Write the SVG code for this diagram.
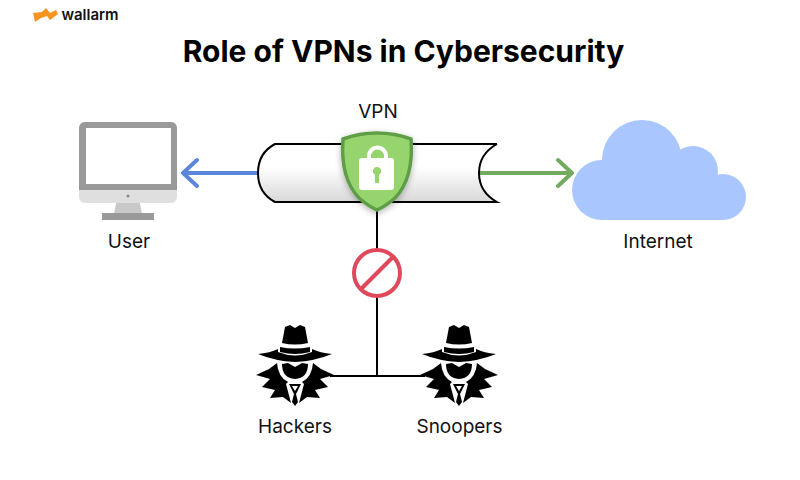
<svg xmlns="http://www.w3.org/2000/svg" width="800" height="480" viewBox="0 0 800 480">
<defs>
<style>
text{font-family:"Inter","Liberation Sans",sans-serif;fill:#111;text-anchor:middle}
.l{font-size:19px}
.ln{fill:none;stroke:#000;stroke-width:2}
</style>
<linearGradient id="g" x1="0" y1="0" x2="0" y2="1"><stop offset="0.4" stop-color="#fff"/><stop offset="1" stop-color="#d8d8d8"/></linearGradient>
<filter id="s" x="-20%" y="-20%" width="140%" height="140%"><feDropShadow dx="0" dy="2" stdDeviation="3" flood-color="#000" flood-opacity="0.3"/></filter>
<g id="spy">
<path d="M-13 -33 L-10 -49 L-5 -51 L0 -48 L5 -51 L10 -49 L13 -33 Q0 -30 -13 -33Z"/>
<path d="M-15 -29 Q0 -26 15 -29 L15 -24 Q0 -20 -15 -24Z"/>
<path d="M-37 -22 Q-25 -23 -17 -27 L-17 -24 Q0 -17 17 -24 L17 -27 Q25 -23 37 -22 Q20 -15 0 -14 Q-20 -15 -37 -22Z"/>
<path d="M-13 -12 L-7 -13 L0 -9 L7 -13 L13 -12 Q13 2 0 3 Q-13 2 -13 -12Z"/>
<path d="M-18 -13 Q-17 1 -7 6 L-9 8 L-4 27 L-12 21 L-25 22 L-20 14 L-33 11 L-25 3 L-39 -1 L-26 -7Z"/>
<path d="M18 -13 Q17 1 7 6 L9 8 L4 27 L12 21 L25 22 L20 14 L33 11 L25 3 L39 -1 L26 -7Z"/>
<path d="M-6 8 H6 L1 18 L3 26 L0 30 L-3 26 L-1 18Z"/>
<path d="M-3 10 H3 L0 15Z" fill="#fff"/>
</g>
</defs>
<g id="logo"><path d="M33 13 L42 12 L46 8 L50 13 L56 10 L58 14 L50 20 L47 16 L41 18 L35 22Z" fill="#f7931e"/><text x="90" y="20" style="font-size:15px;font-weight:600">wallarm</text></g>
<text id="title" x="403.500" y="62" style="font-size:30px;font-weight:700;fill:#000">Role of VPNs in Cybersecurity</text>
<g id="connectors">
<path d="M258 173H184M197 160L183 173L197 186" fill="none" stroke="#5b86dc" stroke-width="4" stroke-linecap="round" stroke-linejoin="round"/>
<path d="M480 173H570M558 160L572 173L558 186" fill="none" stroke="#72ab60" stroke-width="4" stroke-linecap="round" stroke-linejoin="round"/>
<path class="ln" d="M377 205V376M330 376H425"/>
</g>
<g id="user"><rect x="79" y="122" width="98" height="81" rx="6" fill="#dfdfdf"/><path d="M79 190V128a6 6 0 0 1 6-6h86a6 6 0 0 1 6 6v62Z" fill="#999"/><rect x="86" y="128" width="85" height="56" fill="#fff"/><circle cx="128" cy="196" r="1.500" fill="#888"/><path d="M116 203H140L142 214H114Z" fill="#c9c9c9"/><rect x="102" y="213" width="52" height="7" fill="#9a9a9a"/><text class="l" x="129" y="248">User</text></g>
<g id="vpn"><path d="M275 144H497Q479 154 479 173Q479 192 497 202H275Q258 192 258 173Q258 154 275 144Z" fill="url(#g)"/><path class="ln" d="M497 144H275Q258 153 258 173Q258 193 275 202H497Q479 192 479 173Q479 154 497 144"/>
<path d="M377 133Q395 133 411 139Q414 178 395 198Q386 206 377 210Q368 206 359 198Q340 178 343 139Q359 133 377 133Z" fill="#96d46e" stroke="#5f9e47" stroke-width="3.500" filter="url(#s)"/>
<path d="M369 160V156a8.500 8.500 0 0 1 17 0V160" fill="none" stroke="#fff" stroke-width="4"/><path fill-rule="evenodd" fill="#fff" d="M362 158H391a3 3 0 0 1 3 3V187a3 3 0 0 1-3 3H362a3 3 0 0 1-3-3V161a3 3 0 0 1 3-3ZM377 167a4 4 0 0 0-2 7.500V183H379V174.500a4 4 0 0 0-2-7.500Z"/>
<text class="l" x="378" y="118">VPN</text></g>
<g id="block"><circle cx="377" cy="273" r="23" fill="#fff" stroke="#e0485c" stroke-width="4"/><path d="M361 289L393 257" stroke="#e0485c" stroke-width="4"/></g>
<g id="internet"><g fill="#a9c6ff"><circle cx="602" cy="190" r="30"/><circle cx="642" cy="160" r="40"/><circle cx="693" cy="171" r="25"/><circle cx="723" cy="197" r="23"/><rect x="602" y="185" width="121" height="35"/><rect x="620" y="165" width="80" height="25"/></g><text class="l" x="658" y="248">Internet</text></g>
<g id="hackers"><use href="#spy" x="295" y="376"/><text class="l" x="295" y="433">Hackers</text></g>
<g id="snoopers"><use href="#spy" x="459" y="376"/><text class="l" x="459.500" y="433">Snoopers</text></g>
</svg>
